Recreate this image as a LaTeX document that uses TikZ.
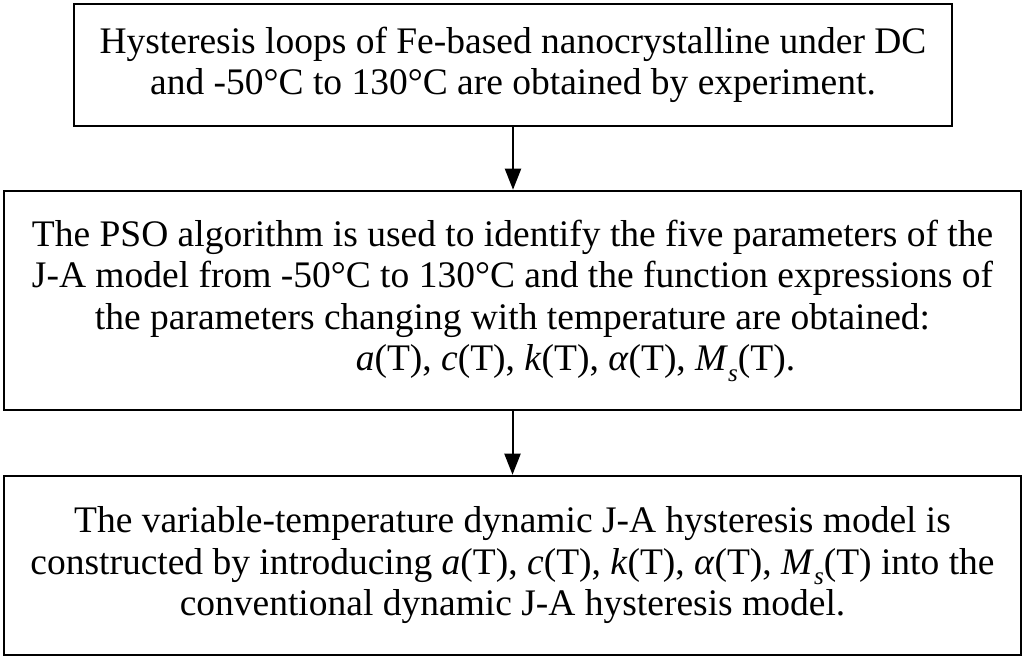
\documentclass[tikz,border=0pt]{standalone}
\usepackage{fontspec}
\setmainfont{Liberation Serif}
\usetikzlibrary{arrows.meta}
\newcommand{\subS}{\raisebox{-0.28em}{\fontsize{25}{25}\selectfont\textit{s}}}
\begin{document}
\begin{tikzpicture}[x=1pt,y=1pt,
  stepbox/.style={draw=black, line width=2.5pt, inner sep=0pt, align=center,
    font=\fontsize{37.5}{41.5}\selectfont},
  flow/.style={line width=2pt, -{Triangle[length=21pt,width=16pt]}}]
\useasboundingbox (0,0) rectangle (1025,660);
\node[stepbox, minimum width=878pt, minimum height=122pt] (b1) at (513,595)
  {Hysteresis loops of Fe-based nanocrystalline under DC\\
   and -50°C to 130°C are obtained by experiment.};
\node[stepbox, minimum width=1017pt, minimum height=219pt] (b2) at (512.5,359.5)
  {The PSO algorithm is used to identify the five parameters of the\\
   J-A model from -50°C to 130°C and the function expressions of\\
   the parameters changing with temperature are obtained:\\
   \hspace*{126pt}\textit{a}(T), \textit{c}(T), \textit{k}(T), \textit{α}(T), \textit{M}\subS(T).};
\node[stepbox, minimum width=1017pt, minimum height=179pt] (b3) at (512.5,94.5)
  {The variable-temperature dynamic J-A hysteresis model is\\
   constructed by introducing \textit{a}(T), \textit{c}(T), \textit{k}(T), \textit{α}(T), \textit{M}\subS(T) into the\\
   conventional dynamic J-A hysteresis model.};
\draw[flow] (b1.south) -- (b1.south |- b2.north);
\draw[flow] (b2.south) -- (b3.north);
\end{tikzpicture}
\end{document}
